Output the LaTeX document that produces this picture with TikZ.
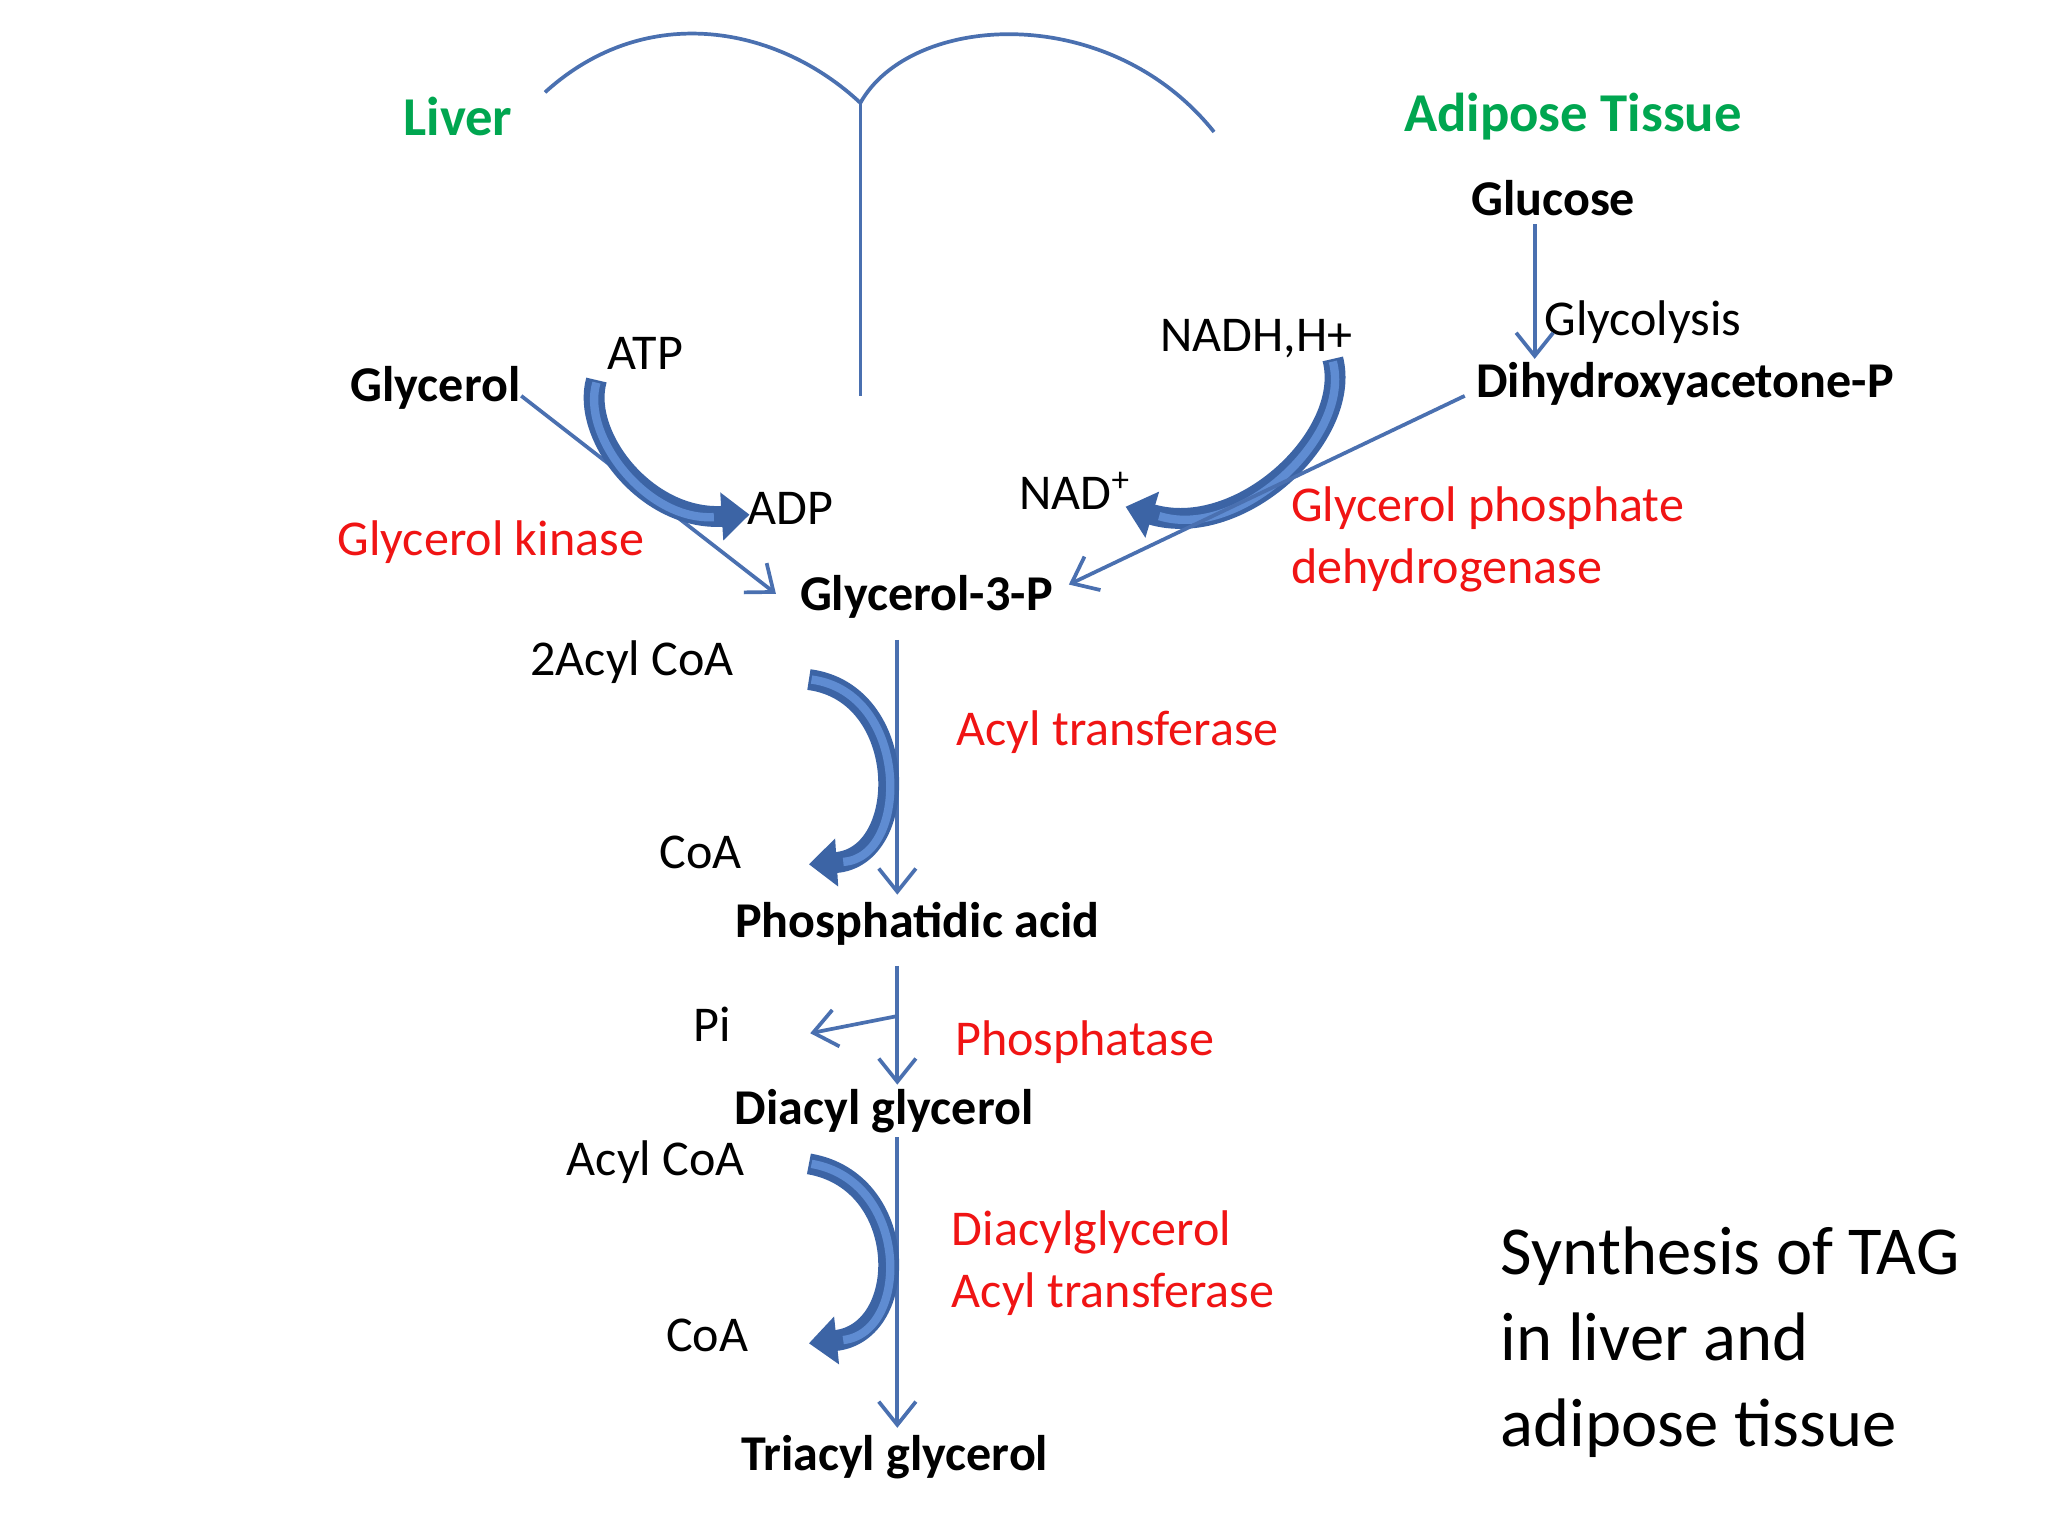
\documentclass[tikz,border=0pt]{standalone}
\usepackage{fontspec}
\setmainfont{Carlito}
\usetikzlibrary{arrows.meta}
\definecolor{ln}{RGB}{74,112,176}
\definecolor{thk}{RGB}{60,100,165}
\definecolor{thl}{RGB}{95,140,210}
\definecolor{grn}{RGB}{0,166,80}
\definecolor{rd}{RGB}{240,20,20}
\tikzset{
 bl/.style={font=\fontsize{10.8}{13}\selectfont\bfseries},
 nm/.style={font=\fontsize{10.8}{13}\selectfont},
 en/.style={font=\fontsize{10.8}{13}\selectfont,text=rd},
 gr/.style={font=\fontsize{11.8}{14}\selectfont\bfseries,text=grn},
 ar/.style={draw=ln,line width=0.8pt,-{Straight Barb[length=5pt,width=8pt]}},
 thick arrow/.style={draw=thk,line width=4.5pt,-{Triangle[length=6pt,width=10pt]}},
 thick inner/.style={draw=thl,line width=1.8pt,shorten >=4pt},
}
\begin{document}
\begin{tikzpicture}
\useasboundingbox[fill=white] (0,0) rectangle (15.52,-11.64);
\node[gr] (liver) at (3.47,-0.88) {Liver};
\node[gr] (adi) at (11.92,-0.88) {Adipose Tissue};
\coordinate (a1) at (4.13,-0.70);
\coordinate (a2) at (6.52,-0.78);
\coordinate (a3) at (9.20,-1.00);
\coordinate (a4) at (6.52,-3.00);
\draw[ln,line width=0.8pt] (a1) .. controls (4.9,0.0) and (5.9,-0.2) .. (a2);
\draw[ln,line width=0.8pt] (a2) .. controls (6.9,-0.1) and (8.4,0.0) .. (a3);
\draw[ln,line width=0.8pt] (a2) -- (a4);

\node[bl] (glu) at (11.77,-1.50) {Glucose};
\node[nm] (glyco) at (12.45,-2.44) {Glycolysis};
\node[bl] (dhap) at (12.77,-2.91) {Dihydroxyacetone-P};
\draw[ar] (11.63,-1.70) -- (11.63,-2.72);

\node[bl] (glyc) at (3.30,-2.94) {Glycerol};
\node[nm] (atp) at (4.89,-2.68) {ATP};
\node[nm] (adp) at (5.99,-3.85) {ADP};
\node[en] (gk) at (3.72,-4.11) {Glycerol kinase};
\node[bl] (g3p) at (7.02,-4.52) {Glycerol-3-P};
\draw[ar] (3.95,-3.00) -- (5.88,-4.50);
\draw[thick arrow] (4.52,-2.88) .. controls (4.4,-3.3) and (4.9,-3.95) .. (5.68,-3.90);
\draw[thick inner] (4.52,-2.9) .. controls (4.4,-3.3) and (4.9,-3.95) .. (5.55,-3.91);

\node[nm] (nadh) at (9.52,-2.57) {NADH,H+};
\node[nm] (nad) at (8.15,-3.72) {NAD\textsuperscript{+}};
\draw[thick arrow] (10.10,-2.72) .. controls (10.25,-3.3) and (9.4,-4.1) .. (8.53,-3.84);
\draw[thick inner] (10.10,-2.74) .. controls (10.25,-3.3) and (9.4,-4.1) .. (8.65,-3.87);
\draw[ar] (11.10,-3.00) -- (8.10,-4.43);
\node[en,anchor=west] (gpd1) at (9.66,-3.85) {Glycerol phosphate};
\node[en,anchor=west] (gpd2) at (9.66,-4.32) {dehydrogenase};

\node[nm] (acoa2) at (4.79,-5.02) {2Acyl CoA};
\node[en] (at) at (8.47,-5.55) {Acyl transferase};
\node[nm] (coa1) at (5.31,-6.46) {CoA};
\node[bl] (pa) at (6.95,-7.00) {Phosphatidic acid};
\draw[ar] (6.80,-4.85) -- (6.80,-6.78);
\draw[thick arrow] (6.13,-5.15) .. controls (6.9,-5.25) and (6.9,-6.5) .. (6.13,-6.55);
\draw[thick inner] (6.15,-5.15) .. controls (6.9,-5.25) and (6.9,-6.5) .. (6.25,-6.54);

\node[nm] (pi) at (5.40,-7.76) {Pi};
\node[en] (ph) at (8.22,-7.90) {Phosphatase};
\node[bl] (dag) at (6.70,-8.42) {Diacyl glycerol};
\coordinate (br) at (6.80,-7.70);
\draw[ar] (6.80,-7.32) -- (6.80,-8.22);
\draw[ar] (br) -- (6.14,-7.83);

\node[nm] (acoa) at (4.97,-8.81) {Acyl CoA};
\node[nm] (coa2) at (5.36,-10.12) {CoA};
\node[en,anchor=west] (dgat1) at (7.09,-9.34) {Diacylglycerol};
\node[en,anchor=west] (dgat2) at (7.09,-9.81) {Acyl transferase};
\node[bl] (tag) at (6.78,-11.04) {Triacyl glycerol};
\draw[ar] (6.80,-8.62) -- (6.80,-10.82);
\draw[thick arrow] (6.13,-8.82) .. controls (6.9,-8.95) and (6.9,-10.1) .. (6.13,-10.18);
\draw[thick inner] (6.15,-8.82) .. controls (6.9,-8.95) and (6.9,-10.1) .. (6.25,-10.17);

\node[anchor=west,align=left,font=\fontsize{14.8}{18.5}\selectfont] (title) at (11.25,-10.17) {Synthesis of TAG\\in liver and\\adipose tissue};
\end{tikzpicture}
\end{document}
